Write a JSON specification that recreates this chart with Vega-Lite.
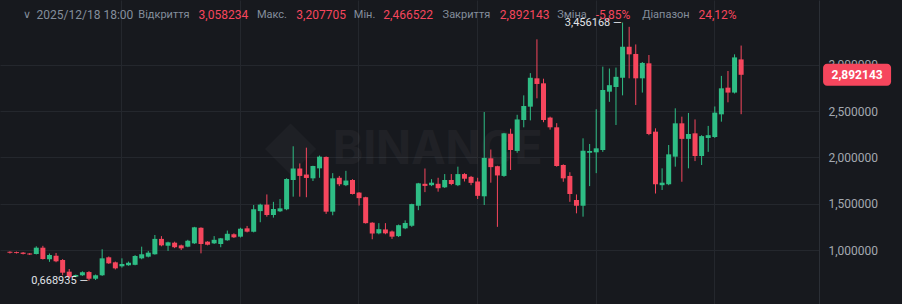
{
  "$schema": "https://vega.github.io/schema/vega-lite/v6.json",
  "width": 819,
  "height": 304,
  "autosize": {"type": "none"},
  "padding": {"left": 0, "top": 0, "right": 83, "bottom": 0},
  "background": "#17191e",
  "config": {"view": {"stroke": null}, "font": "Roboto"},
  "datasets": {
    "candles": [
      {"i":0,"o":0.980,"h":0.986,"l":0.962,"c":0.970},
      {"i":1,"o":0.977,"h":0.983,"l":0.962,"c":0.967},
      {"i":2,"o":0.972,"h":0.978,"l":0.952,"c":0.958},
      {"i":3,"o":0.962,"h":0.967,"l":0.946,"c":0.952},
      {"i":4,"o":0.957,"h":1.040,"l":0.952,"c":1.025},
      {"i":5,"o":1.025,"h":1.045,"l":0.897,"c":0.903},
      {"i":6,"o":0.900,"h":0.962,"l":0.872,"c":0.946},
      {"i":7,"o":0.938,"h":0.968,"l":0.868,"c":0.878},
      {"i":8,"o":0.892,"h":0.902,"l":0.727,"c":0.755},
      {"i":9,"o":0.766,"h":0.795,"l":0.700,"c":0.705},
      {"i":10,"o":0.712,"h":0.735,"l":0.705,"c":0.730},
      {"i":11,"o":0.727,"h":0.770,"l":0.720,"c":0.760},
      {"i":12,"o":0.762,"h":0.772,"l":0.668935,"c":0.690},
      {"i":13,"o":0.690,"h":0.735,"l":0.676,"c":0.727},
      {"i":14,"o":0.727,"h":1.008,"l":0.720,"c":0.910},
      {"i":15,"o":0.921,"h":0.930,"l":0.850,"c":0.856},
      {"i":16,"o":0.867,"h":0.875,"l":0.790,"c":0.802},
      {"i":17,"o":0.824,"h":0.910,"l":0.810,"c":0.849},
      {"i":18,"o":0.835,"h":0.875,"l":0.830,"c":0.863},
      {"i":19,"o":0.840,"h":0.945,"l":0.835,"c":0.935},
      {"i":20,"o":0.910,"h":1.036,"l":0.900,"c":0.954},
      {"i":21,"o":0.928,"h":0.990,"l":0.920,"c":0.971},
      {"i":22,"o":0.954,"h":1.162,"l":0.950,"c":1.120},
      {"i":23,"o":1.120,"h":1.150,"l":1.040,"c":1.050},
      {"i":24,"o":1.046,"h":1.090,"l":0.990,"c":1.083},
      {"i":25,"o":1.079,"h":1.090,"l":1.020,"c":1.030},
      {"i":26,"o":1.050,"h":1.058,"l":1.000,"c":1.018},
      {"i":27,"o":1.036,"h":1.110,"l":1.030,"c":1.100},
      {"i":28,"o":1.072,"h":1.250,"l":1.065,"c":1.245},
      {"i":29,"o":1.240,"h":1.245,"l":0.964,"c":1.065},
      {"i":30,"o":1.090,"h":1.095,"l":1.050,"c":1.057},
      {"i":31,"o":1.072,"h":1.150,"l":1.065,"c":1.110},
      {"i":32,"o":1.065,"h":1.130,"l":1.030,"c":1.126},
      {"i":33,"o":1.105,"h":1.210,"l":1.100,"c":1.175},
      {"i":34,"o":1.170,"h":1.180,"l":1.130,"c":1.137},
      {"i":35,"o":1.144,"h":1.240,"l":1.135,"c":1.230},
      {"i":36,"o":1.234,"h":1.260,"l":1.190,"c":1.198},
      {"i":37,"o":1.198,"h":1.486,"l":1.190,"c":1.440},
      {"i":38,"o":1.420,"h":1.500,"l":1.300,"c":1.490},
      {"i":39,"o":1.490,"h":1.600,"l":1.360,"c":1.378},
      {"i":40,"o":1.378,"h":1.520,"l":1.350,"c":1.443},
      {"i":41,"o":1.418,"h":1.550,"l":1.410,"c":1.450},
      {"i":42,"o":1.440,"h":1.775,"l":1.430,"c":1.767},
      {"i":43,"o":1.756,"h":2.120,"l":1.576,"c":1.880},
      {"i":44,"o":1.880,"h":1.935,"l":1.576,"c":1.800},
      {"i":45,"o":1.815,"h":2.105,"l":1.570,"c":1.778},
      {"i":46,"o":1.774,"h":1.910,"l":1.745,"c":1.907},
      {"i":47,"o":1.882,"h":2.020,"l":1.780,"c":2.008},
      {"i":48,"o":2.005,"h":2.010,"l":1.390,"c":1.414},
      {"i":49,"o":1.414,"h":1.830,"l":1.375,"c":1.774},
      {"i":50,"o":1.780,"h":1.800,"l":1.690,"c":1.710},
      {"i":51,"o":1.700,"h":1.855,"l":1.690,"c":1.750},
      {"i":52,"o":1.756,"h":1.765,"l":1.600,"c":1.605},
      {"i":53,"o":1.620,"h":1.625,"l":1.480,"c":1.560},
      {"i":54,"o":1.570,"h":1.575,"l":1.285,"c":1.290},
      {"i":55,"o":1.295,"h":1.300,"l":1.116,"c":1.178},
      {"i":56,"o":1.180,"h":1.290,"l":1.170,"c":1.225},
      {"i":57,"o":1.222,"h":1.290,"l":1.170,"c":1.180},
      {"i":58,"o":1.200,"h":1.210,"l":1.120,"c":1.144},
      {"i":59,"o":1.150,"h":1.275,"l":1.140,"c":1.268},
      {"i":60,"o":1.234,"h":1.320,"l":1.225,"c":1.292},
      {"i":61,"o":1.262,"h":1.500,"l":1.250,"c":1.496},
      {"i":62,"o":1.478,"h":1.725,"l":1.430,"c":1.720},
      {"i":63,"o":1.715,"h":1.880,"l":1.625,"c":1.692},
      {"i":64,"o":1.700,"h":1.765,"l":1.690,"c":1.727},
      {"i":65,"o":1.715,"h":1.780,"l":1.630,"c":1.667},
      {"i":66,"o":1.677,"h":1.820,"l":1.670,"c":1.756},
      {"i":67,"o":1.756,"h":1.820,"l":1.700,"c":1.713},
      {"i":68,"o":1.700,"h":1.900,"l":1.690,"c":1.820},
      {"i":69,"o":1.820,"h":1.830,"l":1.740,"c":1.770},
      {"i":70,"o":1.790,"h":1.800,"l":1.700,"c":1.725},
      {"i":71,"o":1.740,"h":1.780,"l":1.550,"c":1.585},
      {"i":72,"o":1.580,"h":2.490,"l":1.486,"c":1.995},
      {"i":73,"o":1.990,"h":2.085,"l":1.727,"c":1.895},
      {"i":74,"o":1.905,"h":1.910,"l":1.250,"c":1.805},
      {"i":75,"o":1.800,"h":2.265,"l":1.790,"c":2.260},
      {"i":76,"o":2.256,"h":2.310,"l":1.864,"c":2.080},
      {"i":77,"o":2.070,"h":2.460,"l":2.050,"c":2.410},
      {"i":78,"o":2.404,"h":2.670,"l":2.325,"c":2.555},
      {"i":79,"o":2.548,"h":2.910,"l":2.400,"c":2.860},
      {"i":80,"o":2.854,"h":3.275,"l":2.638,"c":2.793},
      {"i":81,"o":2.800,"h":2.850,"l":2.380,"c":2.404},
      {"i":82,"o":2.430,"h":2.440,"l":2.300,"c":2.325},
      {"i":83,"o":2.325,"h":2.370,"l":1.900,"c":1.907},
      {"i":84,"o":1.918,"h":1.925,"l":1.737,"c":1.774},
      {"i":85,"o":1.800,"h":1.840,"l":1.520,"c":1.605},
      {"i":86,"o":1.540,"h":1.600,"l":1.396,"c":1.478},
      {"i":87,"o":1.478,"h":2.206,"l":1.360,"c":2.072},
      {"i":88,"o":2.050,"h":2.145,"l":1.690,"c":2.069},
      {"i":89,"o":2.055,"h":2.520,"l":1.830,"c":2.098},
      {"i":90,"o":2.080,"h":2.980,"l":2.060,"c":2.728},
      {"i":91,"o":2.710,"h":2.960,"l":2.600,"c":2.780},
      {"i":92,"o":2.760,"h":2.970,"l":2.350,"c":2.870},
      {"i":93,"o":2.860,"h":3.456168,"l":2.670,"c":3.195},
      {"i":94,"o":3.195,"h":3.410,"l":2.854,"c":3.113},
      {"i":95,"o":3.117,"h":3.220,"l":2.566,"c":2.854},
      {"i":96,"o":2.854,"h":3.030,"l":2.700,"c":3.020},
      {"i":97,"o":3.016,"h":3.106,"l":2.240,"c":2.253},
      {"i":98,"o":2.278,"h":2.314,"l":1.610,"c":1.710},
      {"i":99,"o":1.700,"h":1.882,"l":1.648,"c":1.727},
      {"i":100,"o":1.710,"h":2.134,"l":1.700,"c":2.033},
      {"i":101,"o":2.008,"h":2.530,"l":1.900,"c":2.368},
      {"i":102,"o":2.368,"h":2.440,"l":1.737,"c":2.200},
      {"i":103,"o":2.200,"h":2.480,"l":1.882,"c":2.253},
      {"i":104,"o":2.260,"h":2.410,"l":1.960,"c":2.015},
      {"i":105,"o":2.015,"h":2.240,"l":1.918,"c":2.230},
      {"i":106,"o":2.210,"h":2.340,"l":2.060,"c":2.240},
      {"i":107,"o":2.220,"h":2.550,"l":2.210,"c":2.483},
      {"i":108,"o":2.465,"h":2.880,"l":2.386,"c":2.746},
      {"i":109,"o":2.753,"h":2.933,"l":2.595,"c":2.700},
      {"i":110,"o":2.700,"h":3.113,"l":2.690,"c":3.080},
      {"i":111,"o":3.058234,"h":3.207705,"l":2.466522,"c":2.892143}
    ]
  },
  "data": {"name": "candles"},
  "layer": [
    {
      "mark": {"type": "text", "fontSize": 46, "fontWeight": "bold", "font": "Inter", "align": "left", "baseline": "middle", "color": "#ffffff", "opacity": 0.035},
      "data": {"values": [{"t": "BINANCE"}]},
      "encoding": {
        "x": {"datum": 49.0, "type": "quantitative", "scale": {"domain": [-0.7497, 122.06], "nice": false, "zero": false}, "axis": {"grid": true, "values": [16.9, 34.9, 52.9, 70.9, 88.9, 106.9], "gridColor": "#24272d", "gridWidth": 1, "labels": false, "ticks": false, "domain": false, "title": null}},
        "y": {"datum": 2.08, "type": "quantitative", "scale": {"domain": [0.4169, 3.6998], "nice": false, "zero": false}, "axis": {"orient": "right", "grid": true, "values": [1, 1.5, 2, 2.5, 3], "gridColor": "#24272d", "domain": true, "domainColor": "#2b2f36", "ticks": false, "labelPadding": 9, "labelColor": "#a3a8b0", "labelFontSize": 12, "labelFont": "Roboto", "labelExpr": "replace(format(datum.value, '.6f'), '.', ',')", "title": null}},
        "text": {"field": "t"}
      }
    },
    {
      "mark": {"type": "point", "shape": "diamond", "filled": true, "size": 2600, "color": "#ffffff", "opacity": 0.03},
      "data": {"values": [{"t": "logo"}]},
      "encoding": {"x": {"datum": 42.6, "type": "quantitative"}, "y": {"datum": 2.09, "type": "quantitative"}}
    },
    {
      "mark": {"type": "rule", "strokeWidth": 1},
      "encoding": {
        "x": {"field": "i", "type": "quantitative"},
        "y": {"field": "l", "type": "quantitative"},
        "y2": {"field": "h"},
        "color": {"condition": {"test": "datum.c >= datum.o", "value": "#2ebd85"}, "value": "#f6465d"}
      }
    },
    {
      "mark": {"type": "bar", "width": 5},
      "encoding": {
        "x": {"field": "i", "type": "quantitative"},
        "y": {"field": "o", "type": "quantitative"},
        "y2": {"field": "c"},
        "color": {"condition": {"test": "datum.c >= datum.o", "value": "#2ebd85"}, "value": "#f6465d"}
      }
    },
    {
      "mark": {"type": "text", "align": "right", "baseline": "middle", "fontSize": 11, "dx": -1, "color": "#e0e3e8"},
      "data": {"values": [{"i": 93, "v": 3.456168, "t": "3,456168 —"}, {"i": 12, "v": 0.668935, "t": "0,668935 —"}]},
      "encoding": {"x": {"field": "i", "type": "quantitative"}, "y": {"field": "v", "type": "quantitative"}, "text": {"field": "t"}}
    },
    {
      "mark": {"type": "rect", "width": 68, "height": 22, "cornerRadius": 4, "color": "#f6465d", "clip": false},
      "data": {"values": [{"p": 2.892143, "t": "2,892143"}]},
      "encoding": {"x": {"datum": 128.6, "type": "quantitative"}, "y": {"field": "p", "type": "quantitative"}}
    },
    {
      "mark": {"type": "text", "align": "center", "baseline": "middle", "fontSize": 12, "fontWeight": "bold", "color": "#ffffff", "clip": false},
      "data": {"values": [{"p": 2.892143, "t": "2,892143"}]},
      "encoding": {"x": {"datum": 128.6, "type": "quantitative"}, "y": {"field": "p", "type": "quantitative"}, "text": {"field": "t"}}
    },
    {"mark": {"type": "text", "align": "left", "baseline": "middle", "fontSize": 11, "color": "#848e9c"}, "data": {"values": [{"t": "∨"}]}, "encoding": {"x": {"datum": 1.95, "type": "quantitative"}, "y": {"datum": 3.538, "type": "quantitative"}, "text": {"field": "t"}}},
    {"mark": {"type": "text", "align": "left", "baseline": "middle", "fontSize": 12, "color": "#848e9c"}, "data": {"values": [{"t": "2025/12/18 18:00"}]}, "encoding": {"x": {"datum": 4.05, "type": "quantitative"}, "y": {"datum": 3.538, "type": "quantitative"}, "text": {"field": "t"}}},
    {"mark": {"type": "text", "align": "left", "baseline": "middle", "fontSize": 11, "color": "#848e9c"}, "data": {"values": [{"t": "Відкриття"}]}, "encoding": {"x": {"datum": 19.49, "type": "quantitative"}, "y": {"datum": 3.538, "type": "quantitative"}, "text": {"field": "t"}}},
    {"mark": {"type": "text", "align": "left", "baseline": "middle", "fontSize": 12, "color": "#f6465d"}, "data": {"values": [{"t": "3,058234"}]}, "encoding": {"x": {"datum": 28.64, "type": "quantitative"}, "y": {"datum": 3.538, "type": "quantitative"}, "text": {"field": "t"}}},
    {"mark": {"type": "text", "align": "left", "baseline": "middle", "fontSize": 11, "color": "#848e9c"}, "data": {"values": [{"t": "Макс."}]}, "encoding": {"x": {"datum": 37.49, "type": "quantitative"}, "y": {"datum": 3.538, "type": "quantitative"}, "text": {"field": "t"}}},
    {"mark": {"type": "text", "align": "left", "baseline": "middle", "fontSize": 12, "color": "#f6465d"}, "data": {"values": [{"t": "3,207705"}]}, "encoding": {"x": {"datum": 43.48, "type": "quantitative"}, "y": {"datum": 3.538, "type": "quantitative"}, "text": {"field": "t"}}},
    {"mark": {"type": "text", "align": "left", "baseline": "middle", "fontSize": 11, "color": "#848e9c"}, "data": {"values": [{"t": "Мін."}]}, "encoding": {"x": {"datum": 52.2, "type": "quantitative"}, "y": {"datum": 3.538, "type": "quantitative"}, "text": {"field": "t"}}},
    {"mark": {"type": "text", "align": "left", "baseline": "middle", "fontSize": 12, "color": "#f6465d"}, "data": {"values": [{"t": "2,466522"}]}, "encoding": {"x": {"datum": 56.68, "type": "quantitative"}, "y": {"datum": 3.538, "type": "quantitative"}, "text": {"field": "t"}}},
    {"mark": {"type": "text", "align": "left", "baseline": "middle", "fontSize": 11, "color": "#848e9c"}, "data": {"values": [{"t": "Закриття"}]}, "encoding": {"x": {"datum": 65.68, "type": "quantitative"}, "y": {"datum": 3.538, "type": "quantitative"}, "text": {"field": "t"}}},
    {"mark": {"type": "text", "align": "left", "baseline": "middle", "fontSize": 12, "color": "#f6465d"}, "data": {"values": [{"t": "2,892143"}]}, "encoding": {"x": {"datum": 74.37, "type": "quantitative"}, "y": {"datum": 3.538, "type": "quantitative"}, "text": {"field": "t"}}},
    {"mark": {"type": "text", "align": "left", "baseline": "middle", "fontSize": 11, "color": "#848e9c"}, "data": {"values": [{"t": "Зміна"}]}, "encoding": {"x": {"datum": 83.07, "type": "quantitative"}, "y": {"datum": 3.538, "type": "quantitative"}, "text": {"field": "t"}}},
    {"mark": {"type": "text", "align": "left", "baseline": "middle", "fontSize": 12, "color": "#f6465d"}, "data": {"values": [{"t": "-5,85%"}]}, "encoding": {"x": {"datum": 88.92, "type": "quantitative"}, "y": {"datum": 3.538, "type": "quantitative"}, "text": {"field": "t"}}},
    {"mark": {"type": "text", "align": "left", "baseline": "middle", "fontSize": 11, "color": "#848e9c"}, "data": {"values": [{"t": "Діапазон"}]}, "encoding": {"x": {"datum": 95.97, "type": "quantitative"}, "y": {"datum": 3.538, "type": "quantitative"}, "text": {"field": "t"}}},
    {"mark": {"type": "text", "align": "left", "baseline": "middle", "fontSize": 12, "color": "#f6465d"}, "data": {"values": [{"t": "24,12%"}]}, "encoding": {"x": {"datum": 104.51, "type": "quantitative"}, "y": {"datum": 3.538, "type": "quantitative"}, "text": {"field": "t"}}}
  ]
}
